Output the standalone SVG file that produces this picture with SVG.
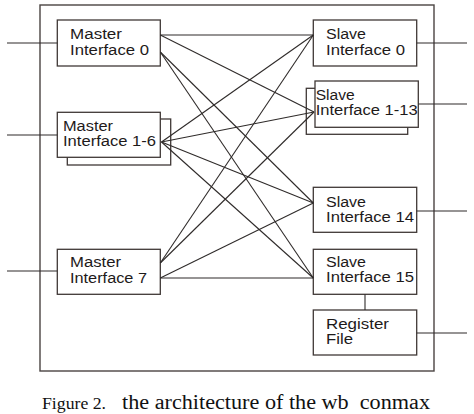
<svg xmlns="http://www.w3.org/2000/svg" width="474" height="414" viewBox="0 0 474 414">
<style>
.box{fill:#fff;stroke:#3f3836;stroke-width:1.3}
.frame{fill:none;stroke:#4a4442;stroke-width:1.4}
.ln{fill:none;stroke:#2f2b2a;stroke-width:1.1}
.t{font-family:"Liberation Sans",Arial,sans-serif;font-size:14px;fill:#1e1a1a}
.cap{font-family:"Liberation Serif","Times New Roman",serif;fill:#111}
</style>
<rect width="474" height="414" fill="#fff"/>
<rect class="frame" x="40" y="5" width="394" height="366"/>
<g id="master0">
<rect class="box" x="57.3" y="20" width="103" height="46"/>
<text class="t" x="70" y="38.5" textLength="52" lengthAdjust="spacingAndGlyphs">Master</text>
<text class="t" x="70" y="55" textLength="79" lengthAdjust="spacingAndGlyphs">Interface 0</text>
</g>
<g id="master1-6">
<rect class="box" x="67.3" y="119" width="103.4" height="46"/>
<rect class="box" x="57.3" y="112.3" width="103" height="45"/>
<text class="t" x="63" y="130.5" textLength="50" lengthAdjust="spacingAndGlyphs">Master</text>
<text class="t" x="63" y="145.5" textLength="93" lengthAdjust="spacingAndGlyphs">Interface 1-6</text>
</g>
<g id="master7">
<rect class="box" x="57.3" y="249.3" width="103" height="45"/>
<text class="t" x="70" y="267" textLength="51" lengthAdjust="spacingAndGlyphs">Master</text>
<text class="t" x="70" y="283" textLength="77" lengthAdjust="spacingAndGlyphs">Interface 7</text>
</g>
<g id="slave0">
<rect class="box" x="313.3" y="20" width="103.4" height="46"/>
<text class="t" x="326" y="38.5" textLength="40" lengthAdjust="spacingAndGlyphs">Slave</text>
<text class="t" x="326" y="55" textLength="79" lengthAdjust="spacingAndGlyphs">Interface 0</text>
</g>
<g id="slave1-13">
<rect class="box" x="306.3" y="88.3" width="101.4" height="46"/>
<rect class="box" x="315" y="81" width="103.3" height="46.3"/>
<text class="t" x="315.7" y="100" textLength="39" lengthAdjust="spacingAndGlyphs">Slave</text>
<text class="t" x="315.7" y="115" textLength="102" lengthAdjust="spacingAndGlyphs">Interface 1-13</text>
</g>
<g id="slave14">
<rect class="box" x="313.3" y="187.3" width="103.4" height="45"/>
<text class="t" x="326" y="206.7" textLength="40" lengthAdjust="spacingAndGlyphs">Slave</text>
<text class="t" x="326" y="222" textLength="88" lengthAdjust="spacingAndGlyphs">Interface 14</text>
</g>
<g id="slave15">
<rect class="box" x="313.3" y="249.3" width="103.4" height="45"/>
<text class="t" x="326" y="266.7" textLength="40" lengthAdjust="spacingAndGlyphs">Slave</text>
<text class="t" x="326" y="282" textLength="88" lengthAdjust="spacingAndGlyphs">Interface 15</text>
</g>
<g id="registerfile">
<rect class="box" x="313.3" y="310" width="103.4" height="45"/>
<text class="t" x="326" y="328.5" textLength="63" lengthAdjust="spacingAndGlyphs">Register</text>
<text class="t" x="326" y="343.5" textLength="27" lengthAdjust="spacingAndGlyphs">File</text>
</g>
<g id="connectors">
<line class="ln" x1="7" y1="43" x2="57.3" y2="43"/>
<line class="ln" x1="7" y1="135" x2="57.3" y2="135"/>
<line class="ln" x1="7" y1="271" x2="57.3" y2="271"/>
<line class="ln" x1="416.7" y1="43" x2="467" y2="43"/>
<line class="ln" x1="418.3" y1="104" x2="467" y2="104"/>
<line class="ln" x1="416.7" y1="211" x2="467" y2="211"/>
<line class="ln" x1="416.7" y1="333" x2="467" y2="333"/>
<line class="ln" x1="365" y1="294.3" x2="365" y2="310"/>
<line class="ln" x1="160.3" y1="35" x2="313.3" y2="35"/>
<line class="ln" x1="160.3" y1="35" x2="314" y2="112"/>
<line class="ln" x1="160.3" y1="52" x2="313.3" y2="203"/>
<line class="ln" x1="160.3" y1="52" x2="313.3" y2="278"/>
<line class="ln" x1="161.5" y1="142" x2="313.3" y2="35"/>
<line class="ln" x1="161.5" y1="142" x2="314" y2="112"/>
<line class="ln" x1="161.5" y1="142" x2="313.3" y2="203"/>
<line class="ln" x1="161.5" y1="142" x2="313.3" y2="278"/>
<line class="ln" x1="160.3" y1="263" x2="313.3" y2="35"/>
<line class="ln" x1="160.3" y1="263" x2="314" y2="112"/>
<line class="ln" x1="160.3" y1="278" x2="313.3" y2="203"/>
<line class="ln" x1="160.3" y1="278" x2="313.3" y2="278"/>
</g>
<text class="cap" x="42" y="409" font-size="16" textLength="64" lengthAdjust="spacingAndGlyphs">Figure 2.</text>
<text class="cap" x="122" y="409" font-size="20" textLength="308" lengthAdjust="spacingAndGlyphs" xml:space="preserve">the architecture of the wb  conmax</text>
</svg>
